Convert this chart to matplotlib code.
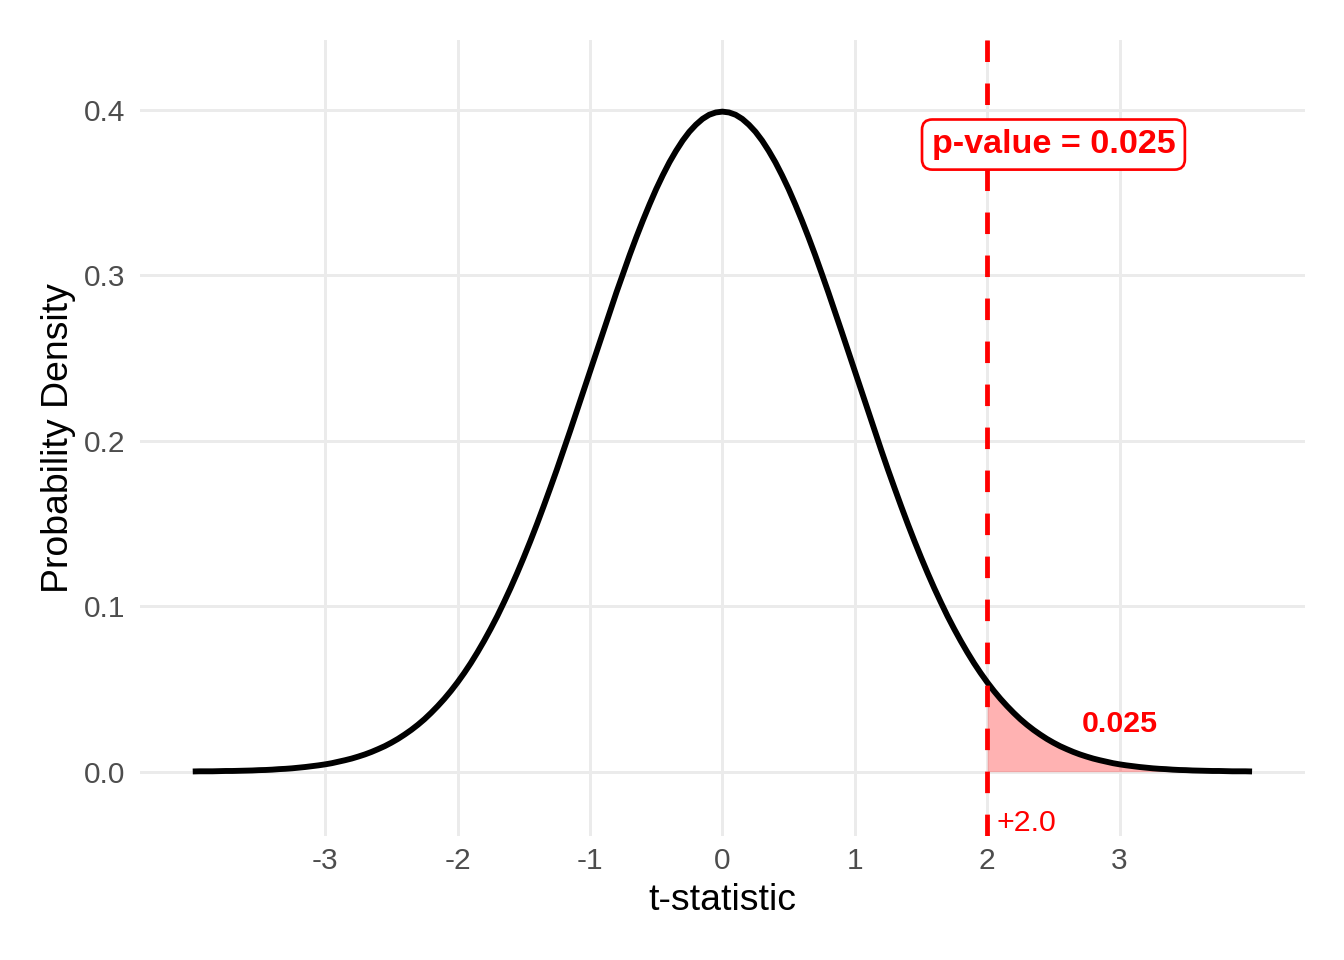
import numpy as np
import matplotlib
matplotlib.use("Agg")
from matplotlib import pyplot as plt

plt.rcParams['font.family'] = ['Liberation Sans', 'DejaVu Sans']

# density for t = 0, 0.05, ..., 4 (curve is symmetric about 0)
density_right = [
    0.3989, 0.3984, 0.3970, 0.3945, 0.3910, 0.3867, 0.3814, 0.3752, 0.3683, 0.3605,
    0.3521, 0.3429, 0.3332, 0.3230, 0.3123, 0.3011, 0.2897, 0.2780, 0.2661, 0.2541,
    0.2420, 0.2299, 0.2179, 0.2059, 0.1942, 0.1826, 0.1714, 0.1604, 0.1497, 0.1394,
    0.1295, 0.1200, 0.1109, 0.1023, 0.0940, 0.0863, 0.0790, 0.0721, 0.0656, 0.0596,
    0.0540, 0.0488, 0.0440, 0.0396, 0.0355, 0.0317, 0.0283, 0.0252, 0.0224, 0.0198,
    0.0175, 0.0154, 0.0136, 0.0119, 0.0104, 0.0091, 0.0079, 0.0069, 0.0060, 0.0051,
    0.0044, 0.0038, 0.0033, 0.0028, 0.0024, 0.0020, 0.0017, 0.0015, 0.0012, 0.0010,
    0.0009, 0.0007, 0.0006, 0.0005, 0.0004, 0.0004, 0.0003, 0.0002, 0.0002, 0.0002,
    0.0001,
]
t_observed = 2.0
p_value = 0.025
x_ticks = [-3, -2, -1, 0, 1, 2, 3]
y_ticks = [0.0, 0.1, 0.2, 0.3, 0.4]

density = np.array(density_right[::-1] + density_right[1:])
t_values = np.linspace(-4, 4, len(density))
grid_col = '#EBEBEB'

fig = plt.figure(figsize=(7, 5), dpi=192)
ax = fig.add_axes([0.104, 0.129, 0.867, 0.829])

# grid like theme_minimal
for xt in x_ticks:
    ax.axvline(xt, color=grid_col, lw=1.1, zorder=0)
for yt in y_ticks:
    ax.axhline(yt, color=grid_col, lw=1.1, zorder=0)

# shaded tail beyond the observed t
tail = t_values >= t_observed - 1e-9
ax.fill_between(t_values[tail], 0, density[tail], color='red', alpha=0.3,
                linewidth=0, zorder=1)

ax.plot(t_values, density, color='black', lw=2.2, zorder=2,
        solid_capstyle='butt', solid_joinstyle='round')

# observed t, dashed line with a full dash at both panel edges
ax.plot([t_observed, t_observed], [1, 0], transform=ax.get_xaxis_transform(),
        color='red', lw=1.8, linestyle=(0, (4.48, 4.48)), zorder=3,
        dash_capstyle='butt')

ax.text(2.5, 0.379, f'p-value = {p_value:.3f}', color='red', fontsize=12.8,
        fontweight='bold', ha='center', va='center', zorder=4,
        bbox=dict(boxstyle='round,pad=0.28,rounding_size=0.3', fc='white',
                  ec='red', lw=1.0))
ax.text(3.0, 0.029, f'{p_value:.3f}', color='red', fontsize=11.4,
        fontweight='bold', ha='center', va='center', zorder=4)
ax.text(t_observed + 0.07, -0.031, f'+{t_observed:.1f}', color='red',
        fontsize=11.4, ha='left', va='center', zorder=4)

ax.set_xlim(-4.4, 4.4)
ax.set_ylim(-0.039, 0.442)
ax.set_xticks(x_ticks)
ax.set_xticklabels([str(v) for v in x_ticks])
ax.set_yticks(y_ticks)
ax.set_yticklabels([f'{v:.1f}' for v in y_ticks])
ax.tick_params(length=0, labelsize=11.2, labelcolor='#4D4D4D')
ax.tick_params(axis='x', pad=4)
ax.tick_params(axis='y', pad=5.5)
ax.set_xlabel('t-statistic', fontsize=14, labelpad=3)
ax.set_ylabel('Probability Density', fontsize=14, labelpad=3)

for spine in ax.spines.values():
    spine.set_visible(False)

fig.savefig('out.png', dpi=192)
